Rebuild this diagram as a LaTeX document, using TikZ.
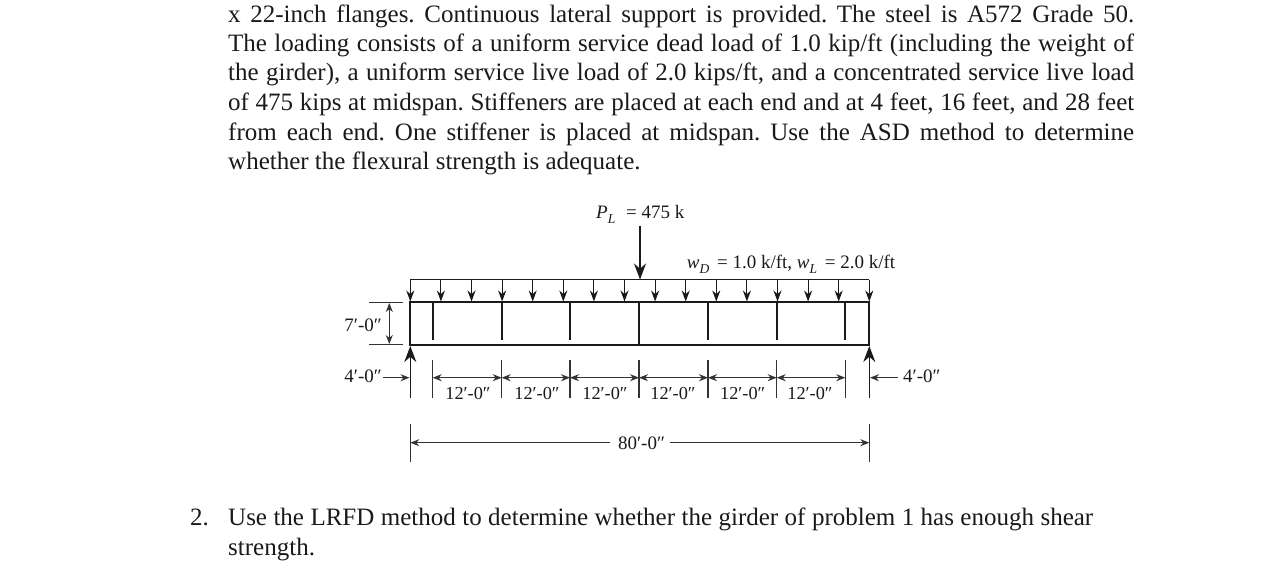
\documentclass[tikz,border=0pt]{standalone}
\usepackage{fontspec}
\setmainfont{Liberation Serif}
\usetikzlibrary{arrows.meta}
\definecolor{ink}{HTML}{1A1A1A}
\definecolor{dimc}{HTML}{333333}
\newcommand{\jline}[1]{\makebox[906pt][s]{\frenchspacing #1}}
\newcommand{\sbs}[1]{\raisebox{-5pt}{\fontsize{13.5}{14}\selectfont\itshape #1}}
\tikzset{
  x=1pt,y=-1pt,
  para/.style={anchor=base west,inner sep=0pt,text=ink,font=\fontsize{25}{28}\selectfont},
  lab/.style={anchor=base,inner sep=0pt,text=ink,font=\fontsize{19}{22}\selectfont},
  beam/.style={draw=ink,line width=1.7pt},
  stiff/.style={draw=ink,line width=1.7pt},
  thin/.style={draw=dimc,line width=1.1pt},
  dimline/.style={draw=dimc,line width=1.1pt,{Stealth[length=9pt,width=7pt]}-{Stealth[length=9pt,width=7pt]}},
  onearrow/.style={draw=dimc,line width=1.1pt,-{Stealth[length=9pt,width=7pt]}},
  loadarrow/.style={draw=ink,line width=1.1pt,-{Stealth[length=11pt,width=8pt]}},
  bigarrow/.style={draw=ink,line width=1.5pt,-{Stealth[length=16pt,width=12pt]}},
}
\begin{document}
\begin{tikzpicture}
\useasboundingbox (0,0) rectangle (1284,583);
\fill[white] (0,0) rectangle (1284,583);
% paragraph
\node[para] (t1) at (228,22.5) {\jline{x 22-inch flanges. Continuous lateral support is provided. The steel is A572 Grade 50.}};
\node[para] (t2) at (228,51.5) {\jline{The loading consists of a uniform service dead load of 1.0 kip/ft (including the weight of}};
\node[para] (t3) at (228,80.5) {\jline{the girder), a uniform service live load of 2.0 kips/ft, and a concentrated service live load}};
\node[para] (t4) at (228,110.5) {\jline{of 475 kips at midspan. Stiffeners are placed at each end and at 4 feet, 16 feet, and 28 feet}};
\node[para] (t5) at (228,140) {\jline{from each end. One stiffener is placed at midspan. Use the ASD method to determine}};
\node[para] (t6) at (228,169.5) {whether the flexural strength is adequate.};
\node[para] (n2) at (190,525) {2.};
\node[para] (t7) at (228,525) {\makebox[865pt][s]{\frenchspacing Use the LRFD method to determine whether the girder of problem 1 has enough shear}};
\node[para] (t8) at (228,555) {strength.};
% girder
\coordinate (TL) at (410.3,302.3);
\coordinate (TR) at (869.3,302.3);
\coordinate (BL) at (410.3,344.7);
\coordinate (BR) at (869.3,344.7);
\draw[beam] (TL) -- (TR) -- (BR) -- (BL) -- cycle;
\foreach \n/\x in {a/432.7,b/501.7,c/570,e/708,f/776.7,g/845.3}{
  \coordinate (s\n t) at (\x,302.3);
  \coordinate (s\n b) at (\x,340);
  \draw[stiff] (s\n t) -- (s\n b);
}
\coordinate (smt) at (639,302.3);
\coordinate (smb) at (639,344.7);
\draw[stiff] (smt) -- (smb);
% distributed load
\coordinate (LL) at (410.3,279.7);
\coordinate (LR) at (869.3,279.7);
\draw[thin,draw=ink] (LL) -- (LR);
\foreach \i in {0,...,15}{
  \pgfmathsetmacro{\xx}{410.3+30.6*\i}
  \coordinate (la\i) at (\xx,279.7);
  \coordinate (lb\i) at (\xx,301.5);
  \draw[loadarrow] (la\i) -- (lb\i);
}
% concentrated load
\coordinate (Pa) at (640,225.7);
\coordinate (Pb) at (640,279.5);
\draw[bigarrow] (Pa) -- (Pb);
\node[lab,anchor=base west] (PL) at (596,218) {\textit{P}\sbs{L}\hspace{6pt} = 475 k};
\node[lab,anchor=base west] (wl) at (686.7,268) {\textit{w}\sbs{D}\hspace{3pt} = 1.0 k/ft, \textit{w}\sbs{L}\hspace{3pt} = 2.0 k/ft};
% reactions
\coordinate (RLa) at (410.3,398);
\coordinate (RLb) at (410.3,346);
\coordinate (RRa) at (869.3,398);
\coordinate (RRb) at (869.3,346);
\draw[bigarrow] (RLa) -- (RLb);
\draw[bigarrow] (RRa) -- (RRb);
% depth dimension
\coordinate (e1a) at (369.3,302.3);
\coordinate (e1b) at (402.7,302.3);
\coordinate (e2a) at (369.3,344.7);
\coordinate (e2b) at (402.7,344.7);
\draw[thin] (e1a) -- (e1b);
\draw[thin] (e2a) -- (e2b);
\coordinate (d7a) at (389.3,303);
\coordinate (d7b) at (389.3,344);
\draw[dimline] (d7a) -- (d7b);
\node[lab,anchor=base east] (L7) at (382,331.7) {7′-0″};
% 4 ft dimensions
\node[lab,anchor=base east] (L4l) at (382,382.7) {4′-0″};
\coordinate (a4l) at (409.5,377.7);
\coordinate (s4l) at (383,377.7);
\draw[onearrow] (s4l) -- (a4l);
\node[lab,anchor=base west] (L4r) at (903,382.7) {4′-0″};
\coordinate (a4r) at (870,377.7);
\coordinate (s4r) at (897.7,377.7);
\draw[onearrow] (s4r) -- (a4r);
% 12 ft ticks and dimensions
\foreach \n/\x in {0/432.7,1/501.7,2/570,3/639,4/708,5/776.7,6/845.3}{
  \coordinate (ta\n) at (\x,360);
  \coordinate (tb\n) at (\x,398);
  \coordinate (tm\n) at (\x,377.7);
  \draw[thin] (ta\n) -- (tb\n);
}
\foreach \a/\b in {0/1,1/2,2/3,3/4,4/5,5/6}{
  \draw[dimline] (tm\a) -- (tm\b);
}
\foreach \n/\x in {0/468,1/537,2/605,3/673,4/742.7,5/810}{
  \node[lab,font=\fontsize{18.3}{22}\selectfont] (d\n) at (\x,399) {12′-0″};
}
% overall dimension
\coordinate (oa1) at (410.3,424);
\coordinate (ob1) at (410.3,462);
\coordinate (oa2) at (869.3,424);
\coordinate (ob2) at (869.3,462);
\draw[thin] (oa1) -- (ob1);
\draw[thin] (oa2) -- (ob2);
\node[lab] (L80) at (641.5,449) {80′-0″};
\coordinate (om1) at (410.3,442.7);
\coordinate (om2) at (869.3,442.7);
\coordinate (os1) at (610,442.7);
\coordinate (os2) at (670,442.7);
\draw[onearrow] (os1) -- (om1);
\draw[onearrow] (os2) -- (om2);
\end{tikzpicture}
\end{document}
